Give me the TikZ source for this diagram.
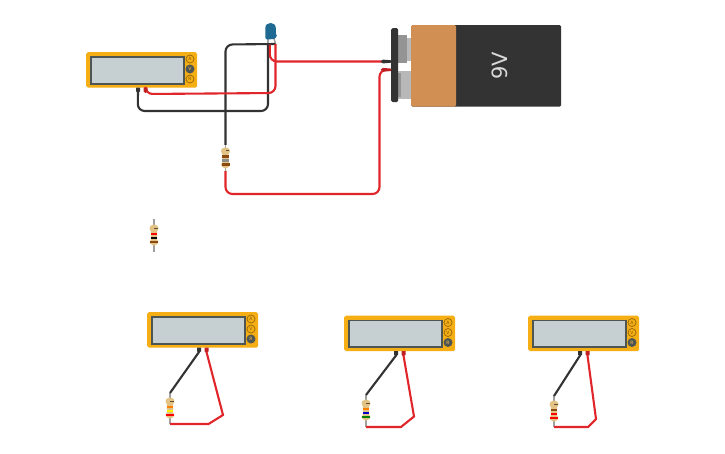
\documentclass[tikz,border=0pt]{standalone}
\usepackage{fontspec}
\setmainfont{DejaVu Sans}
\definecolor{mbody}{HTML}{F5AE13}
\definecolor{mscreen}{HTML}{C6CFD1}
\definecolor{mdark}{HTML}{4F5552}
\definecolor{wblack}{HTML}{333333}
\definecolor{wred}{HTML}{E0262B}
\definecolor{copper}{HTML}{D28F53}
\definecolor{resbody}{HTML}{E2C285}
\definecolor{legc}{HTML}{A0A0A0}
\definecolor{ledc}{HTML}{1F6A92}
\definecolor{bandbrown}{HTML}{8B4A12}
\tikzset{
  x=1pt,y=-1pt,
  wireb/.style={draw=wblack,line width=2.1pt,rounded corners=7pt},
  wirer/.style={draw=wred,line width=2.1pt,rounded corners=7pt},
  legline/.style={draw=legc,line width=1.5pt},
  btn/.style={circle,draw=mbody!60!black,line width=.7pt,inner sep=0pt,minimum size=8pt,font=\fontsize{4.5}{4.5}\selectfont,text=mbody!50!black},
  btnon/.style={circle,fill=mdark,inner sep=0pt,minimum size=9pt,font=\fontsize{4.5}{4.5}\selectfont,text=mbody!70!white},
}
\newcommand{\mymeter}[6]{
  \begin{scope}[shift={(#2,#3)}]
    \node[fill=mbody,rounded corners=1.8pt,minimum width=111pt,minimum height=35.5pt,inner sep=0pt,anchor=north west] (#1) at (0,0) {};
    \node[fill=mscreen,draw=mdark,line width=1.7pt,minimum width=93pt,minimum height=26.6pt,inner sep=0pt,anchor=north west] (#1s) at (4,4.2) {};
    \node[#4] (#1a) at (104,7) {A};
    \node[#5] (#1v) at (104,17) {V};
    \node[#6] (#1r) at (104,27) {R};
    \coordinate (#1b) at (52,40);
    \coordinate (#1p) at (59.5,40);
  \end{scope}
}
\newcommand{\myterms}[3]{
  \begin{scope}[shift={(#2,#3)}]
    \fill[wblack] (50,35.5) rectangle (54,39.5) (50.5,39.5) -- (53.5,39.5) -- (52,41) -- cycle;
    \fill[wred!85!black] (57.5,35.5) rectangle (61.5,39.5) (58,39.5) -- (61,39.5) -- (59.5,41) -- cycle;
  \end{scope}
}
\newcommand{\myres}[8]{
  \begin{scope}[shift={(#2,#3)}]
    \coordinate (#1t) at (0,#4);
    \coordinate (#1e) at (0,#5);
    \draw[legline] (#1t) -- (#1e);
    \path[fill=resbody] (-1.7,0) .. controls (-1,-.6) and (1,-.6) .. (1.7,0)
      .. controls (5,.6) and (5,5) .. (3.1,6) -- (3.1,14.5) .. controls (5,15.5) and (5,18.5) .. (1.7,20)
      .. controls (1,20.7) and (-1,20.7) .. (-1.7,20) .. controls (-5,18.5) and (-5,15.5) .. (-3.1,14.5)
      -- (-3.1,6) .. controls (-5,5) and (-5,.6) .. (-1.7,0) -- cycle;
    \node[inner sep=0pt,minimum size=0pt] (#1) at (0,10) {};
    \fill[black!60!resbody] (0,2.6) rectangle (3.5,3.4);
    \fill[#6] (-3.1,7.6) rectangle (3.1,10.2);
    \fill[#7] (-3.1,11.5) rectangle (3.1,14.2);
    \fill[#8] (-4,15.6) rectangle (4,18.2);
  \end{scope}
}
\begin{document}
\begin{tikzpicture}
\useasboundingbox (0,0) rectangle (725,453);
\fill[white] (0,0) rectangle (725,453);

% battery
\node[fill=black!28,minimum width=14pt,minimum height=28pt,inner sep=0pt,anchor=north west] (snapb) at (397,71) {};
\fill[black!42] (397,73) rectangle (400.5,97);
\fill[black!42] (397,35) rectangle (406.7,63);
\fill[black!28] (406.7,38) rectangle (411,61);
\node[fill=wblack,rounded corners=1.5pt,minimum width=7pt,minimum height=74pt,inner sep=0pt,anchor=north west] (clip) at (391,28) {};
\node[fill=wblack,rounded corners=1.5pt,minimum width=150pt,minimum height=81.5pt,inner sep=0pt,anchor=north west] (batt) at (411,25) {};
\path[fill=copper,rounded corners=1.5pt] (456,25) -- (411,25) -- (411,106.5) -- (456,106.5) -- cycle;
\node[rotate=90,text=black!15,font=\fontsize{21}{21}\selectfont] (vlabel) at (500,66) {9V};
\coordinate (battb) at (384,61.5);
\coordinate (battp) at (384,69.8);

% meters
\mymeter{ma}{86}{52}{btn}{btnon}{btn}
\mymeter{mb}{147}{312}{btn}{btn}{btnon}
\mymeter{mc}{344}{315.5}{btn}{btn}{btnon}
\mymeter{md}{528}{315.5}{btn}{btn}{btnon}

% resistors
\myres{ra}{225.5}{147.8}{-3}{23}{bandbrown}{black!45}{bandbrown}
\myres{rb}{154}{225}{-6}{27}{red}{black}{bandbrown}
\myres{rc}{170}{398}{-5}{26}{orange}{yellow}{red}
\myres{rd}{366}{400}{-5}{27}{orange}{blue!80!black}{green!50!black}
\myres{re}{554}{401}{-5}{26}{bandbrown}{red}{red}

% LED legs
\coordinate (ledk) at (268.5,38);
\coordinate (leda) at (275.5,44);
\draw[legline] (268,36) -- (268,45);
\draw[legline] (273.5,36) -- (leda);

% wires top circuit
\draw[wireb] (mab) -- (137.7,111) -- (268,111) -- (268,44);
\draw[wireb] (rat) -- (225.5,44.5) -- (leda);
\draw[wirer] (leda) -- (275.5,93) -- (145.5,94) -- (map);
\draw[wirer] (269.8,44.5) -- (269.8,61.5) -- (battb);
\draw[wirer] (rae) -- (225.5,194) -- (379.5,194) -- (379.5,69.8) -- (battp);
\fill[wblack] (380.5,61.5) -- (383,59.6) -- (391,60.3) -- (391,62.7) -- (383,63.4) -- cycle;
\fill[wred!85!black] (380.5,69.8) -- (383,67.9) -- (391,68.6) -- (391,71) -- (383,71.7) -- cycle;

\myterms{ma}{86}{52}
\myterms{mb}{147}{312}
\myterms{mc}{344}{315.5}
\myterms{md}{528}{315.5}

% LED body
\path[fill=ledc] (265.3,38) -- (265.3,28) .. controls (265.3,21.3) and (275.8,21.3) .. (275.8,28) -- (275.8,33.5) .. controls (277.2,34) and (277.2,37) .. (275.8,37.5) -- (274,39) -- (267,39.5) -- cycle;
\node[inner sep=0pt,minimum size=0pt] (led) at (270.5,30) {};

% wires lower
\draw[wireb,rounded corners=0pt] (mbb) -- (170,393);
\draw[wirer,rounded corners=0pt] (mbp) -- (223,415) -- (208.5,424) -- (170,424);
\draw[wireb,rounded corners=0pt] (mcb) -- (366,395);
\draw[wirer,rounded corners=0pt] (mcp) -- (414,416.5) -- (401,427) -- (366,427);
\draw[wireb,rounded corners=0pt] (mdb) -- (554,396);
\draw[wirer,rounded corners=0pt] (mdp) -- (596,419) -- (588,427) -- (554,427);
\end{tikzpicture}
\end{document}
